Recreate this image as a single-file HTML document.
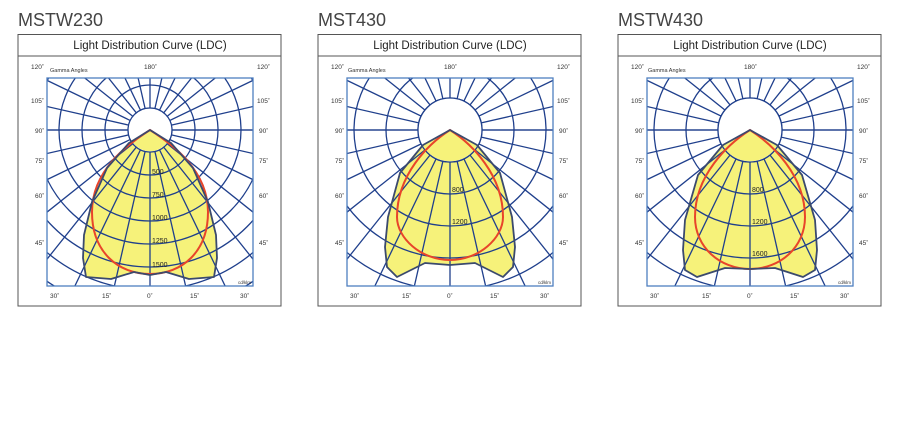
<!DOCTYPE html>
<html><head><meta charset="utf-8"><style>
html,body{margin:0;background:#fff;width:900px;height:425px;overflow:hidden;font-family:"Liberation Sans",sans-serif}
body{position:relative}
svg{display:block}
.t{font-family:"Liberation Sans",sans-serif;font-size:6.5px;fill:#333}
.h{font-family:"Liberation Sans",sans-serif;font-size:18px;fill:#444}
.tt{font-family:"Liberation Sans",sans-serif;font-size:11.5px;fill:#222}
.v{font-family:"Liberation Sans",sans-serif;font-size:7px;fill:#222}
</style></head><body>
<svg id="s" width="900" height="425" viewBox="0 0 900 425" xmlns="http://www.w3.org/2000/svg" style="position:absolute;left:0;top:0">
<defs>
<clipPath id="c0"><rect x="47" y="78" width="206" height="208"/></clipPath>
<clipPath id="c1"><rect x="347" y="78" width="206" height="208"/></clipPath>
<clipPath id="c2"><rect x="647" y="78" width="206" height="208"/></clipPath>
</defs>
<g id="charts"></g>
<text class="h" x="18" y="26">MSTW230</text>
<text class="h" x="318" y="26">MST430</text>
<text class="h" x="618" y="26">MSTW430</text>
<g class="t">
<text x="31" y="69">120˚</text><text x="50" y="72" style="font-size:5.5px">Gamma Angles</text><text x="144" y="69">180˚</text><text x="257" y="69">120˚</text>
<text x="31" y="103">105˚</text><text x="257" y="103">105˚</text>
<text x="35" y="133">90˚</text><text x="259" y="133">90˚</text>
<text x="35" y="163">75˚</text><text x="259" y="163">75˚</text>
<text x="35" y="198">60˚</text><text x="259" y="198">60˚</text>
<text x="35" y="245">45˚</text><text x="259" y="245">45˚</text>
<text x="50" y="298">30˚</text><text x="102" y="298">15˚</text><text x="147" y="298">0˚</text><text x="190" y="298">15˚</text><text x="240" y="298">30˚</text>
<text x="238" y="284" style="font-size:4.5px">cd/klm</text>
<text x="331" y="69">120˚</text><text x="348" y="72" style="font-size:5.5px">Gamma Angles</text><text x="444" y="69">180˚</text><text x="557" y="69">120˚</text>
<text x="331" y="103">105˚</text><text x="557" y="103">105˚</text>
<text x="335" y="133">90˚</text><text x="559" y="133">90˚</text>
<text x="335" y="163">75˚</text><text x="559" y="163">75˚</text>
<text x="335" y="198">60˚</text><text x="559" y="198">60˚</text>
<text x="335" y="245">45˚</text><text x="559" y="245">45˚</text>
<text x="350" y="298">30˚</text><text x="402" y="298">15˚</text><text x="447" y="298">0˚</text><text x="490" y="298">15˚</text><text x="540" y="298">30˚</text>
<text x="538" y="284" style="font-size:4.5px">cd/klm</text>
<text x="631" y="69">120˚</text><text x="648" y="72" style="font-size:5.5px">Gamma Angles</text><text x="744" y="69">180˚</text><text x="857" y="69">120˚</text>
<text x="631" y="103">105˚</text><text x="857" y="103">105˚</text>
<text x="635" y="133">90˚</text><text x="859" y="133">90˚</text>
<text x="635" y="163">75˚</text><text x="859" y="163">75˚</text>
<text x="635" y="198">60˚</text><text x="859" y="198">60˚</text>
<text x="635" y="245">45˚</text><text x="859" y="245">45˚</text>
<text x="650" y="298">30˚</text><text x="702" y="298">15˚</text><text x="747" y="298">0˚</text><text x="790" y="298">15˚</text><text x="840" y="298">30˚</text>
<text x="838" y="284" style="font-size:4.5px">cd/klm</text>
</g>
<g class="v">
<text x="152" y="174">500</text><text x="152" y="197">750</text><text x="152" y="220">1000</text><text x="152" y="243">1250</text><text x="152" y="267">1500</text>
<text x="452" y="192">800</text><text x="452" y="224">1200</text>
<text x="752" y="192">800</text><text x="752" y="224">1200</text><text x="752" y="256">1600</text>
</g>
<g class="tt" text-anchor="middle">
<text x="150" y="49">Light Distribution Curve (LDC)</text>
<text x="450" y="49">Light Distribution Curve (LDC)</text>
<text x="750" y="49">Light Distribution Curve (LDC)</text>
</g>
</svg>
<script>
var NS="http://www.w3.org/2000/svg";
var g=document.getElementById('charts');
function el(t,a,p){var e=document.createElementNS(NS,t);for(var k in a)e.setAttribute(k,a[k]);(p||g).appendChild(e);return e;}
var cfg=[
 {cx:150,hole:22,ring:23,r0:45,
  dark:[[0,0],[-21,13],[-43,38],[-58,72],[-66,105],[-67,128],[-64,147],[-39,149],[-16,142],[0,145]],
  W:58,Y:82,B:144},
 {cx:450,hole:32,ring:32,r0:32,
  dark:[[0,0],[-27,15],[-50,43],[-62,87],[-65,117],[-63,137],[-53,147],[-25,133],[0,135]],
  W:53,Y:87,B:130},
 {cx:750,hole:32,ring:32,r0:32,
  dark:[[0,0],[-27,15],[-52,45],[-65,90],[-67,120],[-65,140],[-53,147],[-25,138],[0,139]],
  W:55,Y:87,B:139}
];
cfg.forEach(function(c,i){
 var cx=c.cx,cy=130,ox=cx-132;
 el('rect',{x:ox,y:34.5,width:263,height:271.5,fill:'#fff',stroke:'#555','stroke-width':1});
 el('line',{x1:ox,y1:56,x2:ox+263,y2:56,stroke:'#555','stroke-width':1});
 var grp=el('g',{'clip-path':'url(#c'+i+')'});
 var pts=c.dark.map(function(p){return (cx+p[0])+','+(cy+p[1]);});
 var rev=c.dark.slice(0,-1).reverse().map(function(p){return (cx-p[0])+','+(cy+p[1]);});
 var d='M'+pts.concat(rev).join(' L')+'Z';
 el('path',{d:d,fill:'#f6f27a'},grp);
 for(var r=c.r0;r<195;r+=c.ring) el('circle',{cx:cx,cy:cy,r:r,fill:'none',stroke:'#1f3f8c','stroke-width':1.3},grp);
 var step=360/28;
 for(var k=0;k<28;k++){
  var a=k*step*Math.PI/180;
  el('line',{x1:cx,y1:cy,x2:cx+Math.sin(a)*200,y2:cy+Math.cos(a)*200,stroke:'#1f3f8c','stroke-width':1.3},grp);
 }
 el('line',{x1:cx-104,y1:cy,x2:cx+104,y2:cy,stroke:'#1f3f8c','stroke-width':1.3},grp);
 el('circle',{cx:cx,cy:cy,r:c.hole,fill:'#fff',stroke:'#1f3f8c','stroke-width':1.3},grp);
 var cp=el('clipPath',{id:'h'+i},grp);
 el('circle',{cx:cx,cy:cy,r:c.hole-0.7},cp);
 el('path',{d:d,fill:'#f6f27a','clip-path':'url(#h'+i+')'},grp);
 var W=c.W,Y=c.Y,B=c.B;
 var rd='M'+cx+','+cy+' C'+(cx-22)+','+(cy+14)+' '+(cx-W)+','+(cy+Y-42)+' '+(cx-W)+','+(cy+Y)+
  ' C'+(cx-W)+','+(cy+B-22)+' '+(cx-W*0.55)+','+(cy+B)+' '+cx+','+(cy+B)+
  ' C'+(cx+W*0.55)+','+(cy+B)+' '+(cx+W)+','+(cy+B-22)+' '+(cx+W)+','+(cy+Y)+
  ' C'+(cx+W)+','+(cy+Y-42)+' '+(cx+22)+','+(cy+14)+' '+cx+','+cy+'Z';
 el('path',{d:rd,fill:'none',stroke:'#e8452a','stroke-width':2},grp);
 el('path',{d:d,fill:'none',stroke:'#3b4a6e','stroke-width':1.8,'stroke-linejoin':'round'},grp);
 el('rect',{x:cx-103,y:78,width:206,height:208,fill:'none',stroke:'#4f7fc0','stroke-width':1.3});
});
</script>
</body></html>
